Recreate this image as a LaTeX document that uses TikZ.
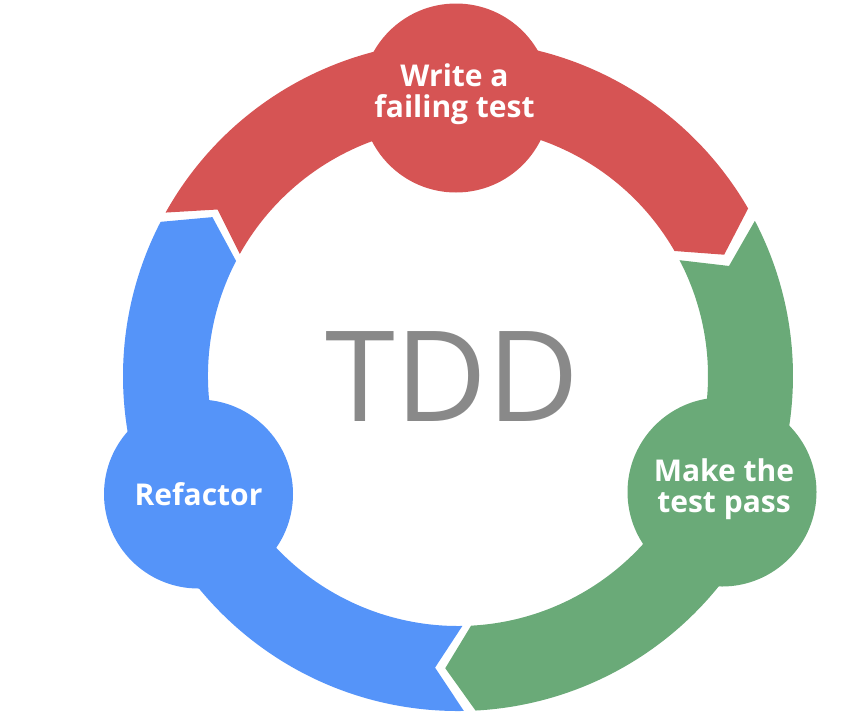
\documentclass[tikz,border=0pt]{standalone}
\usepackage{fontspec}
\setmainfont{Open Sans}
\definecolor{redc}{HTML}{D65454}
\definecolor{greenc}{HTML}{6AAA78}
\definecolor{bluec}{HTML}{5594F9}
\definecolor{grayc}{HTML}{898989}
\newcommand\myringseg[3]{%
  \fill[#1] (#2:335) arc[start angle=#2, end angle=#3, radius=335]
    -- ({#3-5.5}:292.5) -- (#3:250)
    arc[start angle=#3, end angle=#2, radius=250]
    -- ({#2-5.5}:292.5) -- cycle;}
\begin{document}
\begin{tikzpicture}[x=1pt,y=1pt,
  bubble/.style={circle, minimum size=189pt, inner sep=0pt},
  lbl/.style={text=white, font=\fontsize{30}{31}\selectfont\bfseries, align=center}]
\useasboundingbox (0,0) rectangle (866,-718);
\begin{scope}[shift={(458,-376)}]
  \myringseg{redc}{150.8}{30.0}
  \myringseg{greenc}{27.6}{-87.0}
  \myringseg{bluec}{271.0}{152.6}
\end{scope}
\node[bubble, fill=redc] (wc) at (456,-98) {};
\node[lbl] (wt) at (454.5,-94.5) {Write a\\failing test};
\node[bubble, fill=greenc] (mc) at (722,-492) {};
\node[lbl] (mt) at (724,-489.5) {Make the\\test pass};
\node[bubble, fill=bluec] (rc) at (198.5,-494) {};
\node[lbl] (rt) at (198.5,-494) {Refactor};
\node[font=\fontsize{126}{126}\selectfont, text=grayc] (tdd) at (452.5,-376.5) {TDD};
\end{tikzpicture}
\end{document}
